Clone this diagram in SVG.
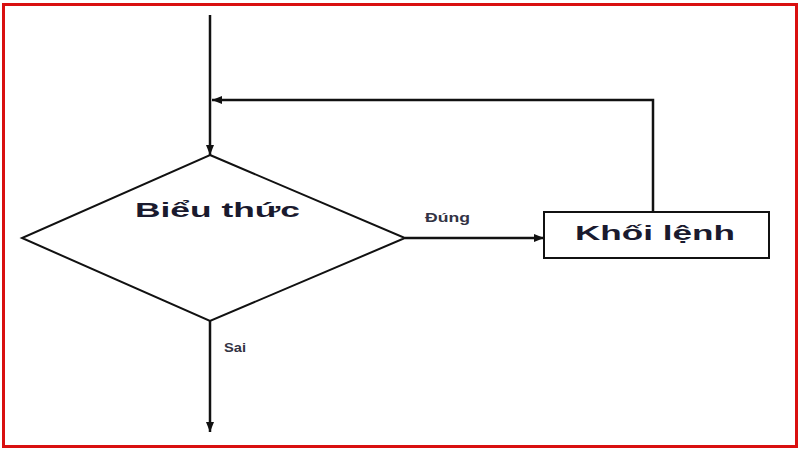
<svg xmlns="http://www.w3.org/2000/svg" width="800" height="450" viewBox="0 0 800 450">
<style>
.ln{fill:none;stroke:#111;stroke-width:2.5}
.sh{fill:#fff;stroke:#111;stroke-width:2}
.big{font-family:"Liberation Sans",Arial,sans-serif;font-weight:bold;font-size:21px;fill:#1a1a2e}
.sm{font-family:"Liberation Sans",Arial,sans-serif;font-weight:bold;font-size:12px;fill:#333344}
</style>
<defs>
<marker id="ah2" viewBox="0 0 10 10" refX="10" refY="5" markerWidth="10" markerHeight="10" orient="auto" markerUnits="userSpaceOnUse">
<path d="M0,1 L10,5 L0,9 Z" fill="#111"/>
</marker>
</defs>
<rect x="3.5" y="4.5" width="793" height="442" fill="#fff" stroke="#d91010" stroke-width="3"/>
<g id="connectors">
<line class="ln" x1="210" y1="15" x2="210" y2="155" stroke-width="3" marker-end="url(#ah2)"/>
<polyline class="ln" points="653,212 653,100 212,100" marker-end="url(#ah2)"/>
<line class="ln" x1="405" y1="238" x2="544" y2="238" stroke-width="2" marker-end="url(#ah2)"/>
<line class="ln" x1="210" y1="321" x2="210" y2="432" stroke-width="3" marker-end="url(#ah2)"/>
<text class="sm" x="425" y="222" textLength="45" lengthAdjust="spacingAndGlyphs">Đúng</text>
<text class="sm" x="224" y="352" textLength="22" lengthAdjust="spacingAndGlyphs">Sai</text>
</g>
<g id="decision">
<polygon class="sh" points="210,155 405,238 210,321 22,238"/>
<text class="big" x="135" y="217" textLength="165" lengthAdjust="spacingAndGlyphs">Biểu thức</text>
</g>
<g id="block">
<rect class="sh" x="544" y="212" width="225" height="46" stroke-width="2.5"/>
<text class="big" x="575" y="240" textLength="160" lengthAdjust="spacingAndGlyphs">Khối lệnh</text>
</g>
</svg>
